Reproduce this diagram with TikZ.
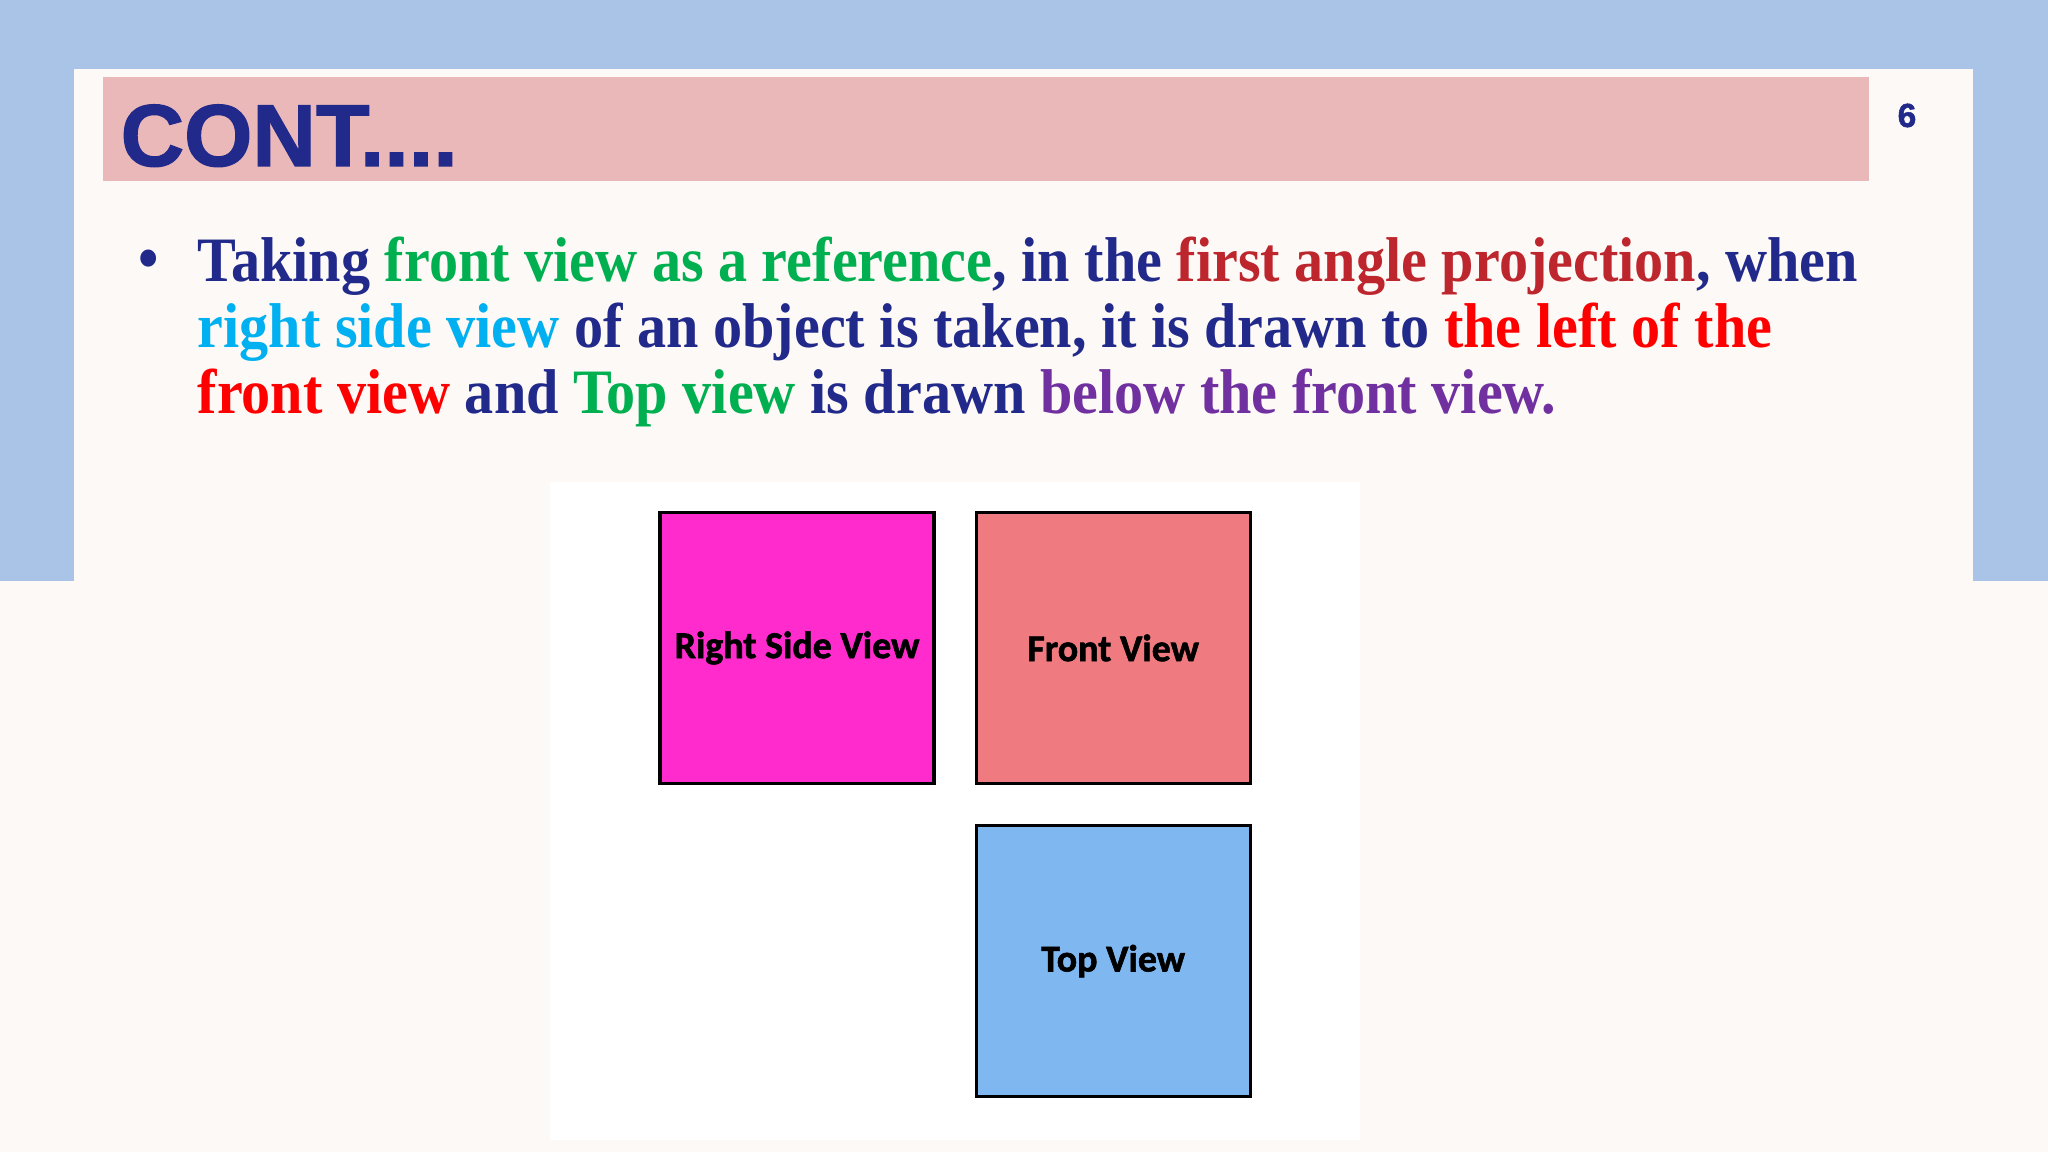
\documentclass[tikz,border=0pt]{standalone}
\usepackage{fontspec}
\setmainfont{Liberation Serif}
\newfontfamily\titlefont{Liberation Sans}[FakeBold=1.5]
\newfontfamily\bodyfont{Liberation Serif}[FakeStretch=0.92]
\newfontfamily\labelfont{Carlito}[FakeBold=1.5]
\usetikzlibrary{positioning}

\definecolor{paper}{RGB}{253,249,246}
\definecolor{band}{RGB}{170,196,232}
\definecolor{titlebar}{RGB}{234,184,185}
\definecolor{navy}{RGB}{33,41,139}
\definecolor{okgreen}{RGB}{0,176,80}
\definecolor{projred}{RGB}{190,38,46}
\definecolor{skyblue}{RGB}{0,176,240}
\definecolor{brightred}{RGB}{255,0,0}
\definecolor{violet}{RGB}{112,48,160}
\definecolor{rsvpink}{RGB}{255,43,204}
\definecolor{fvpink}{RGB}{239,123,128}
\definecolor{tvblue}{RGB}{127,184,240}

\tikzset{
  view/.style={draw=black, line width=0.9pt, minimum width=2.74cm, minimum height=2.71cm,
    inner sep=0pt, text=black, font=\labelfont\bfseries\fontsize{10.8}{12}\selectfont},
}

\begin{document}
\begin{tikzpicture}
% slide background
\fill[paper] (0,0) rectangle (20.48,11.52);
\fill[band] (0,5.71) rectangle (20.48,11.52);
\fill[paper] (0.74,0) rectangle (19.73,10.83);

% heading
\fill[titlebar] (1.03,9.71) rectangle (18.69,10.75);
\node[anchor=base west, inner sep=0pt, text=navy,
  font=\titlefont\bfseries\fontsize{25}{25}\selectfont] (title) at (1.20,9.86) {CONT....};
\node[anchor=base, inner sep=0pt, text=navy,
  font=\titlefont\bfseries\fontsize{9.5}{10}\selectfont] (page) at (19.07,10.25) {6};

% bullet (base anchor = last line)
\node[inner sep=0pt, text=navy, font=\bodyfont\bfseries\fontsize{18}{19}\selectfont] (dot) at (1.49,8.87) {\textbullet};
\node[anchor=base west, inner sep=0pt, align=left, text=navy,
  font=\bodyfont\bfseries\fontsize{18}{18.9}\selectfont] (body) at (1.97,7.38)
  {Taking \textcolor{okgreen}{front view as a reference}, in the \textcolor{projred}{first angle projection}, when\\
   \textcolor{skyblue}{right side view} of an object is taken, it is drawn to \textcolor{brightred}{the left of the}\\
   \textcolor{brightred}{front view} and \textcolor{okgreen}{Top view} is drawn \textcolor{violet}{below the front view.}};

% the three views
\fill[white] (5.50,0.12) rectangle (13.60,6.70);
\node[view, fill=rsvpink] (rsv) at (7.97,5.04) {Right Side View};
\node[view, fill=fvpink, right=0.39 of rsv] (fv) {Front View};
\node[view, fill=tvblue, below=0.39 of fv] (tv) {Top View};
\end{tikzpicture}
\end{document}
